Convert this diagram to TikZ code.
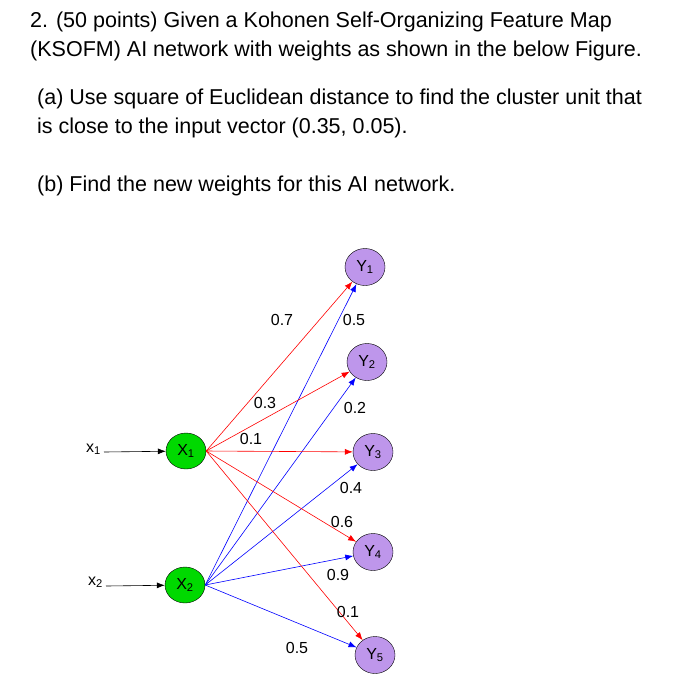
\documentclass[tikz,border=0pt]{standalone}
\usepackage{fontspec}
\setmainfont{Liberation Sans}
\usetikzlibrary{arrows.meta,shapes.geometric}
\begin{document}
\begin{tikzpicture}[x=1pt,y=-1pt,
  txt/.style={anchor=base west,inner sep=0,font=\fontsize{21.5}{24}\selectfont},
  lab/.style={inner sep=0,font=\fontsize{16}{18}\selectfont},
  xnode/.style={ellipse,draw,fill=green!85!black,minimum width=40pt,minimum height=36pt,inner sep=0,font=\fontsize{16}{18}\selectfont},
  ynode/.style={ellipse,draw,fill={rgb,255:red,190;green,150;blue,235},minimum width=40pt,minimum height=37pt,inner sep=0,font=\fontsize{16}{18}\selectfont},
  rw/.style={red,-{Latex[length=8pt,width=6pt]},semithick},
  bw/.style={blue,-{Latex[length=8pt,width=6pt]},semithick}]
\useasboundingbox (0,0) rectangle (700,697);
\node[txt] (t1) at (30,27) {2. (50 points) Given a Kohonen Self-Organizing Feature Map};
\node[txt] (t2) at (30,56) {(KSOFM) AI network with weights as shown in the below Figure.};
\node[txt] (t3) at (37,104) {(a) Use square of Euclidean distance to find the cluster unit that};
\node[txt] (t4) at (37,133) {is close to the input vector (0.35, 0.05).};
\node[txt] (t5) at (37,191) {(b) Find the new weights for this AI network.};
\node[xnode] (X1) at (186,451) {X\textsubscript{1}};
\node[xnode] (X2) at (185,585) {X\textsubscript{2}};
\node[ynode] (Y1) at (365,267) {Y\textsubscript{1}};
\node[ynode] (Y2) at (367,362) {Y\textsubscript{2}};
\node[ynode] (Y3) at (373,452) {Y\textsubscript{3}};
\node[ynode] (Y4) at (373,552) {Y\textsubscript{4}};
\node[ynode] (Y5) at (375,655) {Y\textsubscript{5}};
\node[lab,anchor=south west] (x1) at (86,455) {x\textsubscript{1}};
\node[lab,anchor=south west] (x2) at (88,588) {x\textsubscript{2}};
\coordinate (a1) at (104,452);
\coordinate (a2) at (106,586);
\draw[semithick,-{Latex[length=8pt,width=6pt]}] (a1) -- (X1);
\draw[semithick,-{Latex[length=8pt,width=6pt]}] (a2) -- (X2);
\foreach \i in {1,...,5}{
  \draw[rw] (X1.east) -- (Y\i);
  \draw[bw] (X2.east) -- (Y\i);
}
\node[lab] (w1) at (282,320) {0.7};
\node[lab] (w2) at (354,320) {0.5};
\node[lab] (w3) at (265,403) {0.3};
\node[lab] (w4) at (355,408) {0.2};
\node[lab] (w5) at (251,439) {0.1};
\node[lab] (w6) at (351,488) {0.4};
\node[lab] (w7) at (342,522) {0.6};
\node[lab] (w8) at (338,575) {0.9};
\node[lab] (w9) at (348,612) {0.1};
\node[lab] (w10) at (297,648) {0.5};
\end{tikzpicture}
\end{document}
